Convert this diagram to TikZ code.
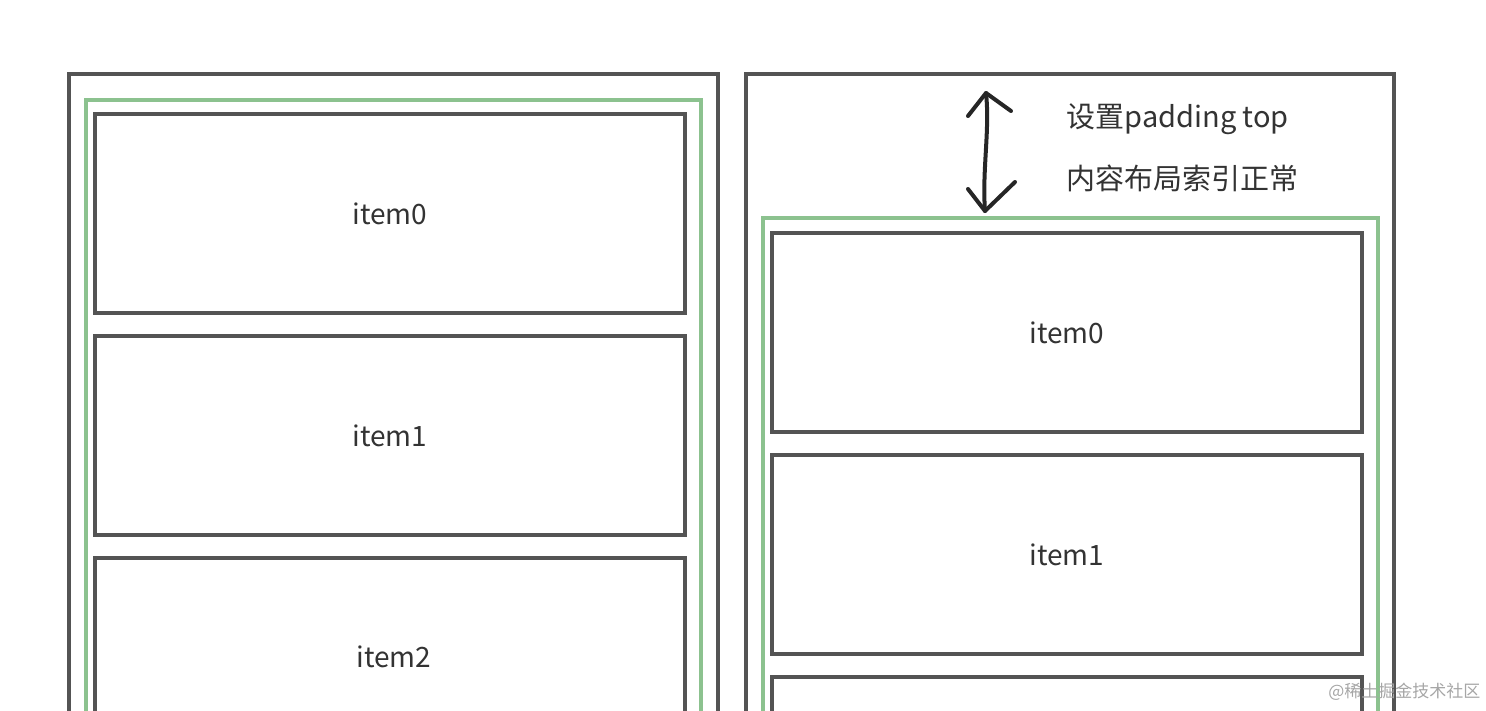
\documentclass[tikz,border=0pt]{standalone}
\usepackage{fontspec}
\setmainfont{Noto Sans CJK SC}
\begin{document}
\begin{tikzpicture}[x=1pt,y=-1pt,
  gbox/.style={draw=black!67,line width=4pt},
  green/.style={draw=green!45!gray!70!white,line width=4pt},
  lbl/.style={font=\fontsize{28}{32}\selectfont,text=black!80}]
\useasboundingbox (0,0) rectangle (1486,710);
\clip (0,0) rectangle (1486,710);
\definecolor{gr}{HTML}{8CC28F}
% left
\draw[gbox] (69,74) rectangle (718,800);
\draw[line width=4pt,draw=gr] (86,100) rectangle (701,800);
\draw[gbox] (95,114) rectangle (685,313) node[midway,lbl] (l0) {item0};
\draw[gbox] (95,336) rectangle (685,535) node[midway,lbl] (l1) {item1};
\draw[gbox] (95,558) rectangle (685,757);
\node[lbl] (l2) at (394,657) {item2};
% right
\draw[gbox] (746,74) rectangle (1394,800);
\draw[line width=4pt,draw=gr] (763,218) rectangle (1378,800);
\draw[gbox] (772,233) rectangle (1362,432) node[midway,lbl] (r0) {item0};
\draw[gbox] (772,455) rectangle (1362,654) node[midway,lbl] (r1) {item1};
\draw[gbox] (772,677) rectangle (1362,800);
% arrow
\coordinate (at) at (986,93);
\coordinate (ab) at (985,211);
\draw[line width=4pt,line cap=round,line join=round,black!85]
  (at) .. controls (990,130) and (982,170) .. (ab);
\draw[line width=4pt,line cap=round,line join=round,black!85]
  (968,116) -- (at) -- (1011,111);
\draw[line width=4pt,line cap=round,line join=round,black!85]
  (968,189) -- (ab) -- (1015,182);
\node[lbl,anchor=west,font=\fontsize{29}{32}\selectfont] (t1) at (1063,119) {设置padding top};
\node[lbl,anchor=west,font=\fontsize{29}{32}\selectfont] (t2) at (1063,178) {内容布局索引正常};
\node[anchor=east,text=black!35,font=\fontsize{17}{20}\selectfont] (wm) at (1484,692) {@稀土掘金技术社区};
\end{tikzpicture}
\end{document}
